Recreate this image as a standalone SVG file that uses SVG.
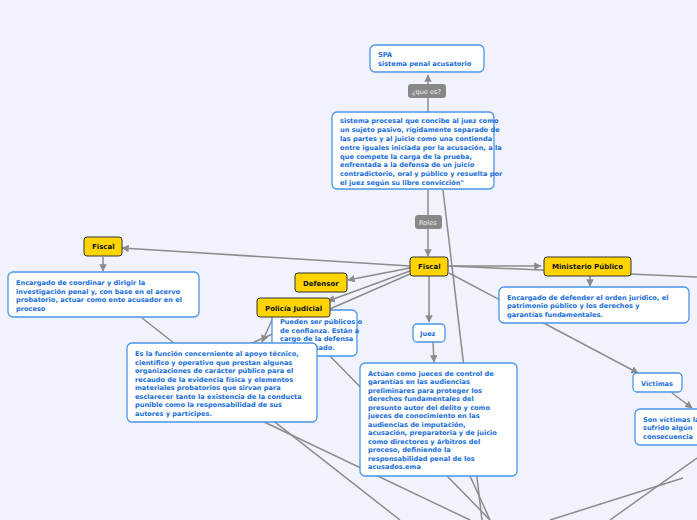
<svg xmlns="http://www.w3.org/2000/svg" width="697" height="520" viewBox="0 0 697 520">
<style>
text{font-family:"DejaVu Sans",Verdana,sans-serif;font-weight:bold;font-size:6.6px;fill:#1a6fd8}
.y text{fill:#111;font-size:7px}
.b{fill:#fff;stroke:#4a95e8;stroke-width:1.3}
.yb{fill:#ffd400;stroke:#333;stroke-width:1}
.c line,.c path{stroke:#8c8c8c;stroke-width:1.5;fill:none}
.a{marker-end:url(#ar)}
.g{fill:#888}
</style>
<defs><marker id="ar" viewBox="0 0 10 10" refX="9" refY="5" markerWidth="5" markerHeight="5" orient="auto"><path d="M0,0L10,5L0,10z" fill="#8c8c8c"/></marker></defs>
<rect width="697" height="520" fill="#f0f3fc"/>
<g class="c">
<line x1="443" y1="190" x2="482" y2="520"/>
<line x1="142" y1="318" x2="400" y2="520"/>
<line x1="260" y1="420" x2="470" y2="520"/>
<line x1="330" y1="356" x2="490" y2="520"/>
<line x1="470" y1="476" x2="490" y2="520"/>
<line x1="683" y1="478" x2="550" y2="520"/>
<line x1="697" y1="458" x2="610" y2="520"/>
<line x1="449" y1="266" x2="697" y2="277"/>
<line x1="428" y1="120" x2="428" y2="75" class="a"/>
<line x1="428" y1="190" x2="428" y2="256" class="a"/>
<line x1="410" y1="266" x2="122" y2="248" class="a"/>
<line x1="410" y1="268" x2="348" y2="280" class="a"/>
<line x1="410" y1="271" x2="328" y2="301" class="a"/>
<line x1="410" y1="274" x2="190" y2="370"/>
<line x1="449" y1="266" x2="541" y2="266" class="a"/>
<line x1="449" y1="273" x2="638" y2="373" class="a"/>
<line x1="429" y1="276" x2="429" y2="322" class="a"/>
<line x1="433" y1="341" x2="434" y2="362" class="a"/>
<line x1="103" y1="257" x2="103" y2="271" class="a"/>
<line x1="590" y1="276" x2="590" y2="286" class="a"/>
<line x1="672" y1="393" x2="692" y2="408" class="a"/>
<line x1="272" y1="320" x2="262" y2="342" class="a"/>
</g>
<g id="spa"><rect class="b" x="370" y="45" width="114" height="27" rx="5"/><text x="378" y="57">SPA</text><text x="378" y="66">sistema penal acusatorio</text></g>
<g id="quees"><rect class="g" x="408" y="84" width="38" height="14" rx="3"/><text x="412" y="94" style="fill:#eee;font-weight:normal">¿que es?</text></g>
<g id="def"><rect class="b" x="332" y="112" width="162" height="77" rx="5"/>
<text x="340" y="123">sistema procesal que concibe al juez como</text>
<text x="340" y="132">un sujeto pasivo, rígidamente separado de</text>
<text x="340" y="141">las partes y al juicio como una contienda</text>
<text x="340" y="150">entre iguales iniciada por la acusación, a la</text>
<text x="340" y="159">que compete la carga de la prueba,</text>
<text x="340" y="167">enfrentada a la defensa de un juicio</text>
<text x="340" y="176">contradictorio, oral y público y resuelta por</text>
<text x="340" y="185">el juez según su libre convicción"</text></g>
<g id="roles"><rect class="g" x="415" y="215" width="27" height="14" rx="3"/><text x="419" y="225" style="fill:#eee;font-weight:normal">Roles</text></g>
<g id="fiscalc" class="y"><rect class="yb" x="410" y="257" width="38" height="19" rx="3"/><text x="418" y="269">Fiscal</text></g>
<g id="fiscal" class="y"><rect class="yb" x="84" y="237" width="38" height="19" rx="3"/><text x="92" y="249">Fiscal</text></g>
<g id="fdesc"><rect class="b" x="8" y="272" width="191" height="45" rx="5"/>
<text x="16" y="285">Encargado de coordinar y dirigir la</text>
<text x="16" y="294">investigación penal y, con base en el acervo</text>
<text x="16" y="302">probatorio, actuar como ente acusador en el</text>
<text x="16" y="311">proceso</text></g>
<g id="defensor" class="y"><rect class="yb" x="295" y="273" width="52" height="19" rx="3"/><text x="303" y="286">Defensor</text></g>
<g id="defdesc"><rect class="b" x="272" y="310" width="85" height="46" rx="5"/>
<text x="280" y="324">Pueden ser públicos o</text>
<text x="280" y="333">de confianza. Están a</text>
<text x="280" y="341">cargo de la defensa</text>
<text x="280" y="350">del procesado.</text></g>
<g id="policia" class="y"><rect class="yb" x="257" y="298" width="73" height="19" rx="3"/><text x="265" y="311">Policía Judicial</text></g>
<g id="poldesc"><rect class="b" x="127" y="343" width="190" height="79" rx="5"/>
<text x="135" y="356">Es la función concerniente al apoyo técnico,</text>
<text x="135" y="365">científico y operativo que prestan algunas</text>
<text x="135" y="373">organizaciones de carácter público para el</text>
<text x="135" y="382">recaudo de la evidencia física y elementos</text>
<text x="135" y="390">materiales probatorios que sirvan para</text>
<text x="135" y="399">esclarecer tanto la existencia de la conducta</text>
<text x="135" y="407">punible como la responsabilidad de sus</text>
<text x="135" y="416">autores y partícipes.</text></g>
<g id="juez"><rect class="b" x="413" y="324" width="32" height="18" rx="4"/><text x="420" y="336">Juez</text></g>
<g id="juezdesc"><rect class="b" x="360" y="363" width="157" height="113" rx="5"/>
<text x="368" y="376">Actúan como jueces de control de</text>
<text x="368" y="384">garantías en las audiencias</text>
<text x="368" y="393">preliminares para proteger los</text>
<text x="368" y="401">derechos fundamentales del</text>
<text x="368" y="410">presunto autor del delito y como</text>
<text x="368" y="418">jueces de conocimiento en las</text>
<text x="368" y="427">audiencias de imputación,</text>
<text x="368" y="435">acusación, preparatoria y de juicio</text>
<text x="368" y="444">como directores y árbitros del</text>
<text x="368" y="452">proceso, definiendo la</text>
<text x="368" y="461">responsabilidad penal de los</text>
<text x="368" y="469">acusados.ema</text></g>
<g id="mp" class="y"><rect class="yb" x="544" y="257" width="87" height="19" rx="3"/><text x="552" y="269">Ministerio Público</text></g>
<g id="mpdesc"><rect class="b" x="499" y="287" width="190" height="36" rx="5"/>
<text x="507" y="300">Encargado de defender el orden jurídico, el</text>
<text x="507" y="308">patrimonio público y los derechos y</text>
<text x="507" y="317">garantías fundamentales.</text></g>
<g id="victimas"><rect class="b" x="633" y="373" width="49" height="19" rx="4"/><text x="641" y="386">Víctimas</text></g>
<g id="vdesc"><rect class="b" x="635" y="409" width="80" height="36" rx="5"/>
<text x="643" y="422">Son víctimas las</text>
<text x="643" y="430">sufrido algún</text>
<text x="643" y="439">consecuencia</text></g>
</svg>
